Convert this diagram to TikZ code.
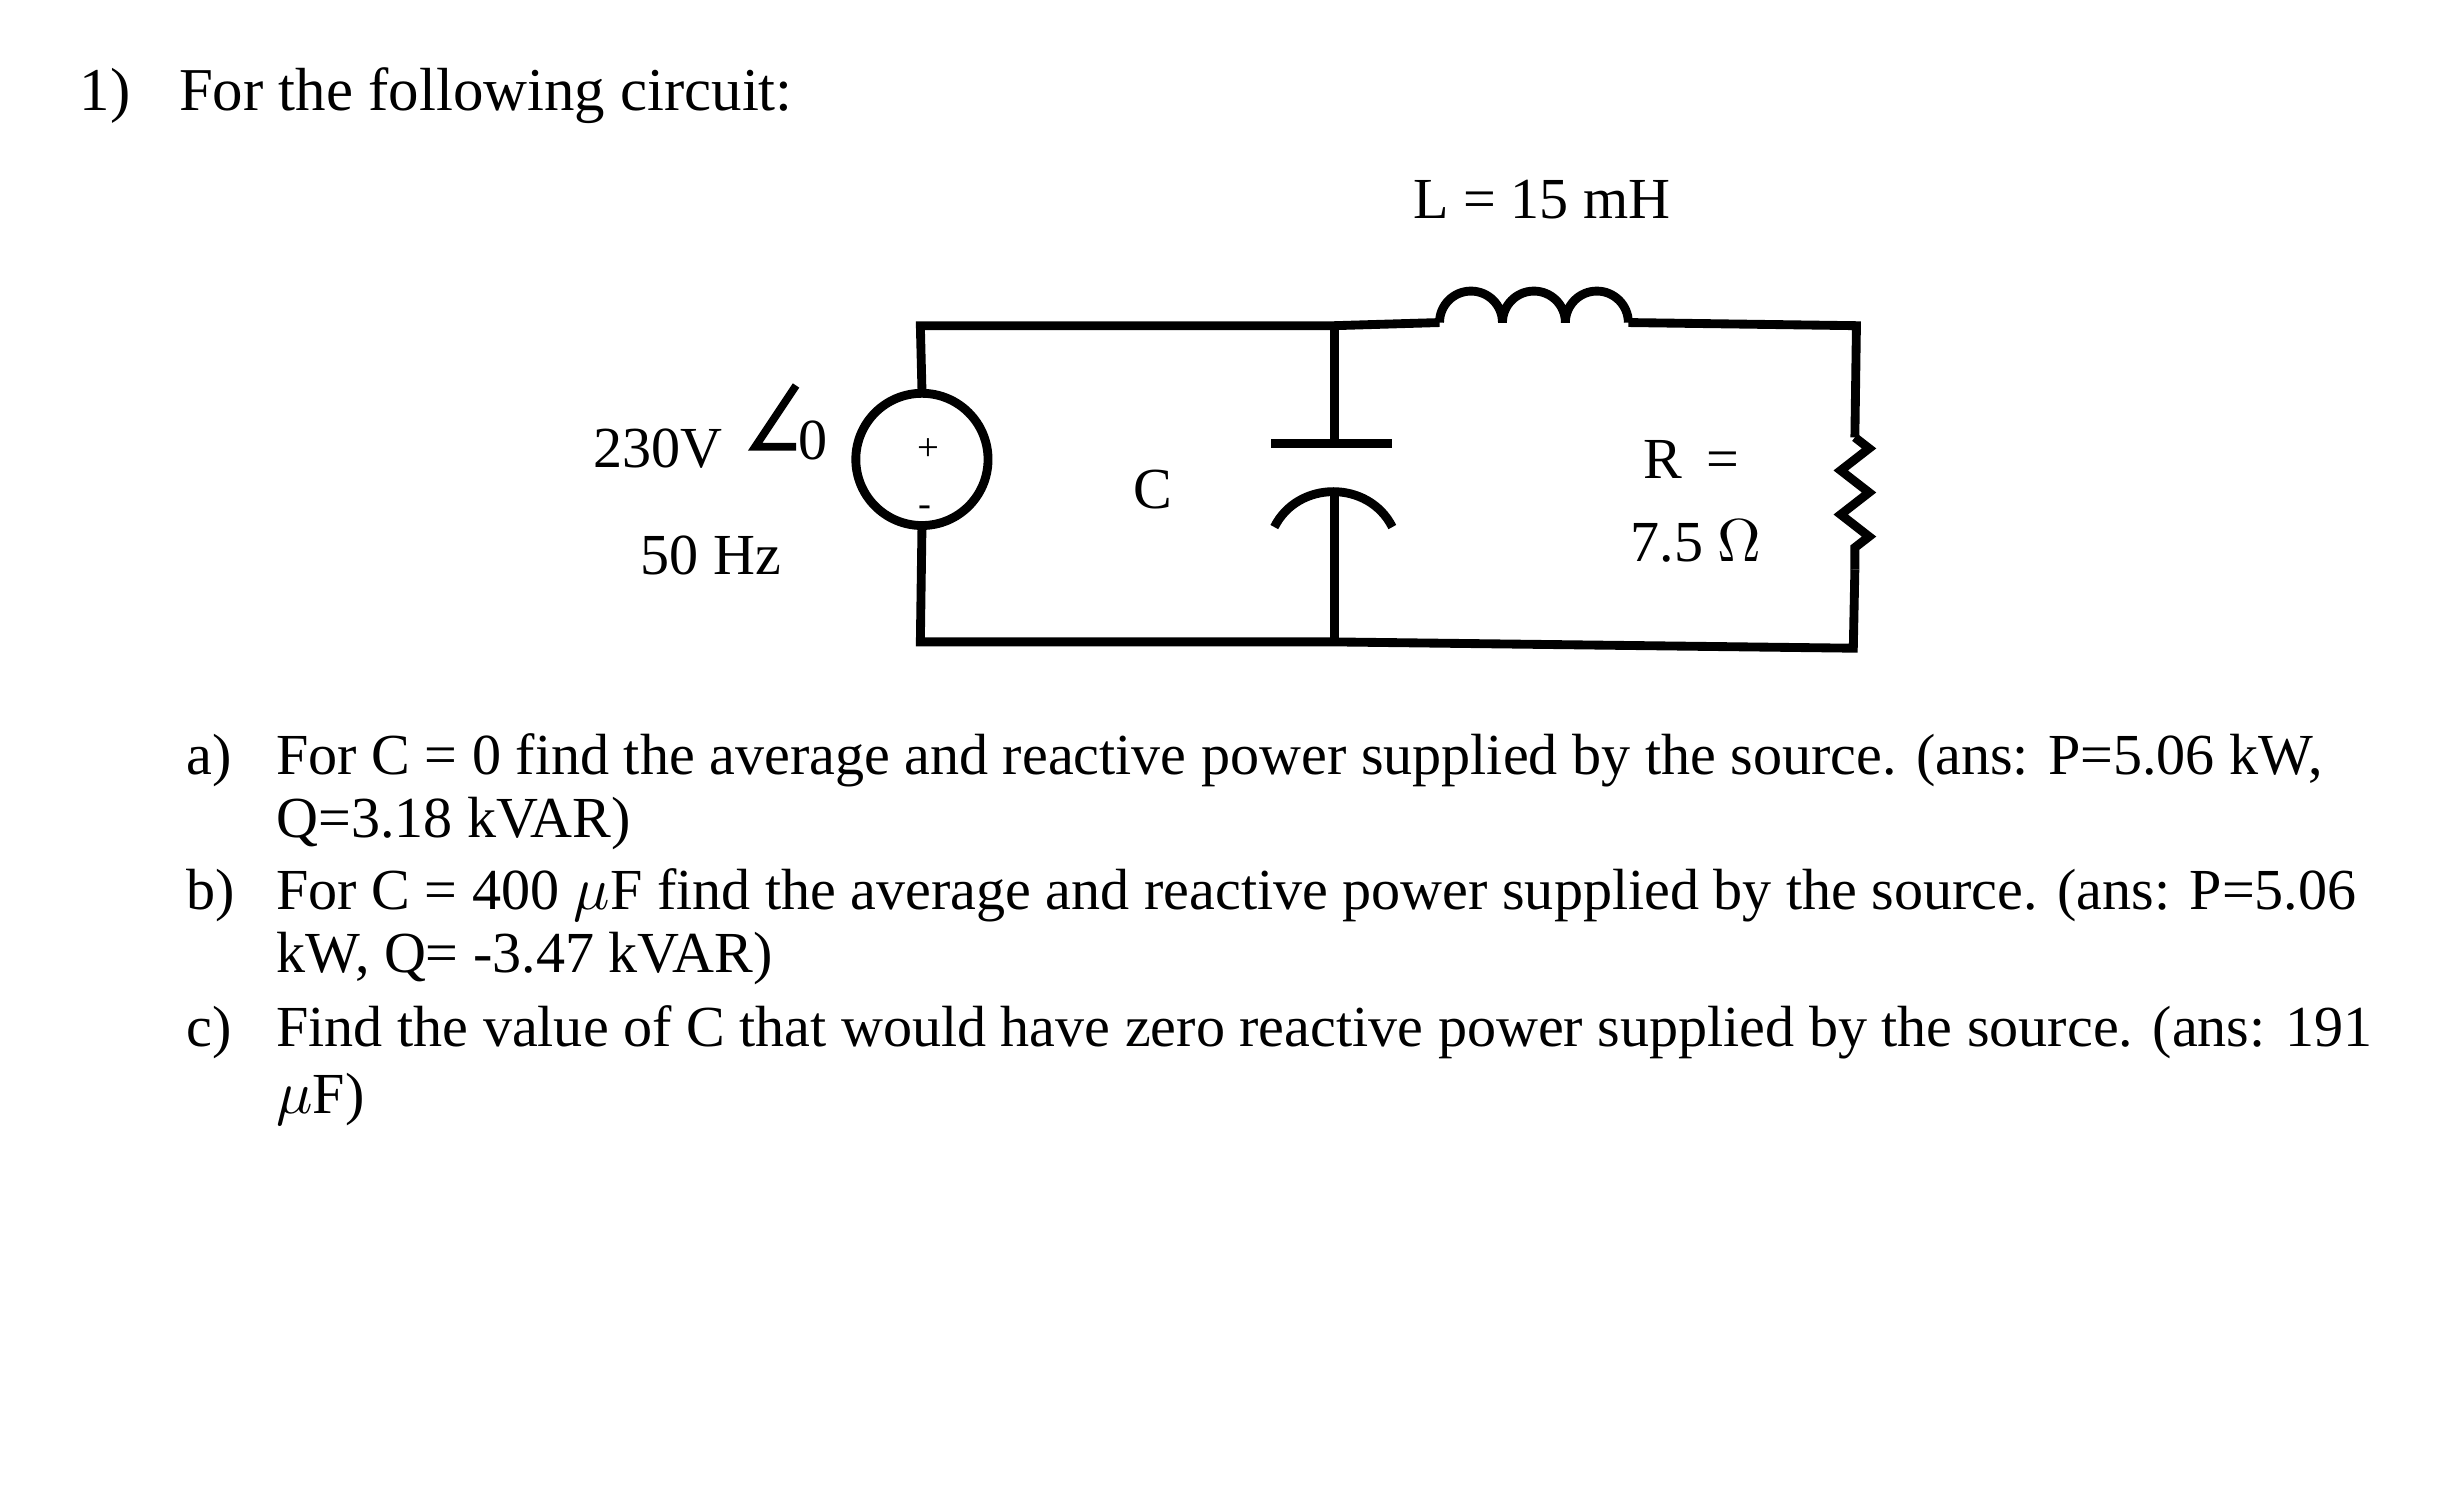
\documentclass[tikz,border=0pt]{standalone}
\usepackage{fontspec}
\setmainfont{Liberation Serif}
\usetikzlibrary{positioning,decorations.pathmorphing}
\begin{document}
\begin{tikzpicture}[x=0.01cm,y=-0.01cm,
  wire/.style={line width=1.6pt},
  txt/.style={font=\fontsize{10.5}{12}\selectfont,anchor=base west,inner sep=0pt},
  lbl/.style={font=\fontsize{10.5}{12}\selectfont,inner sep=0pt}]
\useasboundingbox (0,0) rectangle (1556,944);
% title
\node[txt,font=\fontsize{11}{13}\selectfont] (title) at (50,70) {1)\hspace{0.8em}For the following circuit:};
% corners
\coordinate (tl) at (585,207);
\coordinate (tm) at (848,207);
\coordinate (li) at (915,205);
\coordinate (lo) at (1035,205);
\coordinate (tr) at (1180,207);
\coordinate (rt) at (1179,278);
\coordinate (rb) at (1179,362);
\coordinate (br) at (1178,412);
\coordinate (bm) at (848,408);
\coordinate (bl) at (585,408);
\node[circle,draw,line width=1.6pt,minimum size=0.84cm,inner sep=0pt] (src) at (586,292) {};
\node[lbl,font=\scriptsize] (plus) at (590,286) {+};
\node[lbl,font=\scriptsize] (minus) at (588,325) {-};
% capacitor
\coordinate (ct) at (848,282);
\coordinate (cb) at (848,312);
% wires
\draw[wire] (src.north) -- (tl) -- (tm) -- (li);
\draw[wire] (lo) -- (tr) -- (rt);
\draw[wire] (rb) -- (br) -- (bm) -- (bl) -- (src.south);
\draw[wire] (tm) -- (ct);
\draw[wire] (808,282) -- (885,282);
\draw[wire] (cb) -- (bm);
\draw[wire] (810,335) .. controls (825,305) and (870,305) .. (885,335);
% inductor
\draw[wire] (li) arc[start angle=180,end angle=360,radius=20]
  arc[start angle=180,end angle=360,radius=20]
  arc[start angle=180,end angle=360,radius=20];
% resistor
\draw[wire,decorate,decoration={zigzag,segment length=0.28cm,amplitude=0.09cm}] (rt) -- (rb);
% labels
\node[lbl] (lval) at (980,127) {L = 15 mH};
\node[lbl] (vs) at (418,285) {230V};
\draw[wire,line width=1.4pt] (506,245) -- (480,284) -- (506,284);
\node[lbl] (ang) at (517,280) {0};
\node[lbl] (freq) at (452,353) {50 Hz};
\node[lbl] (clbl) at (733,311) {C};
\node[lbl] (rlbl) at (1075,292) {R \,=};
\node[lbl] (rval) at (1078,344) {7.5 $\Omega$};
% questions
\node[txt] (qa) at (118,492) {a)};
\node[txt] (qa1) at (175,492) {For C = 0 find the average and reactive power supplied by the source. (ans: P=5.06 kW,};
\node[txt] (qa2) at (175,532) {Q=3.18 kVAR)};
\node[txt] (qb) at (118,578) {b)};
\node[txt] (qb1) at (175,578) {For C = 400 $\mu$F find the average and reactive power supplied by the source. (ans: P=5.06};
\node[txt] (qb2) at (175,618) {kW, Q= -3.47 kVAR)};
\node[txt] (qc) at (118,665) {c)};
\node[txt] (qc1) at (175,665) {Find the value of C that would have zero reactive power supplied by the source. (ans: 191};
\node[txt] (qc2) at (175,708) {$\mu$F)};
\end{tikzpicture}
\end{document}
